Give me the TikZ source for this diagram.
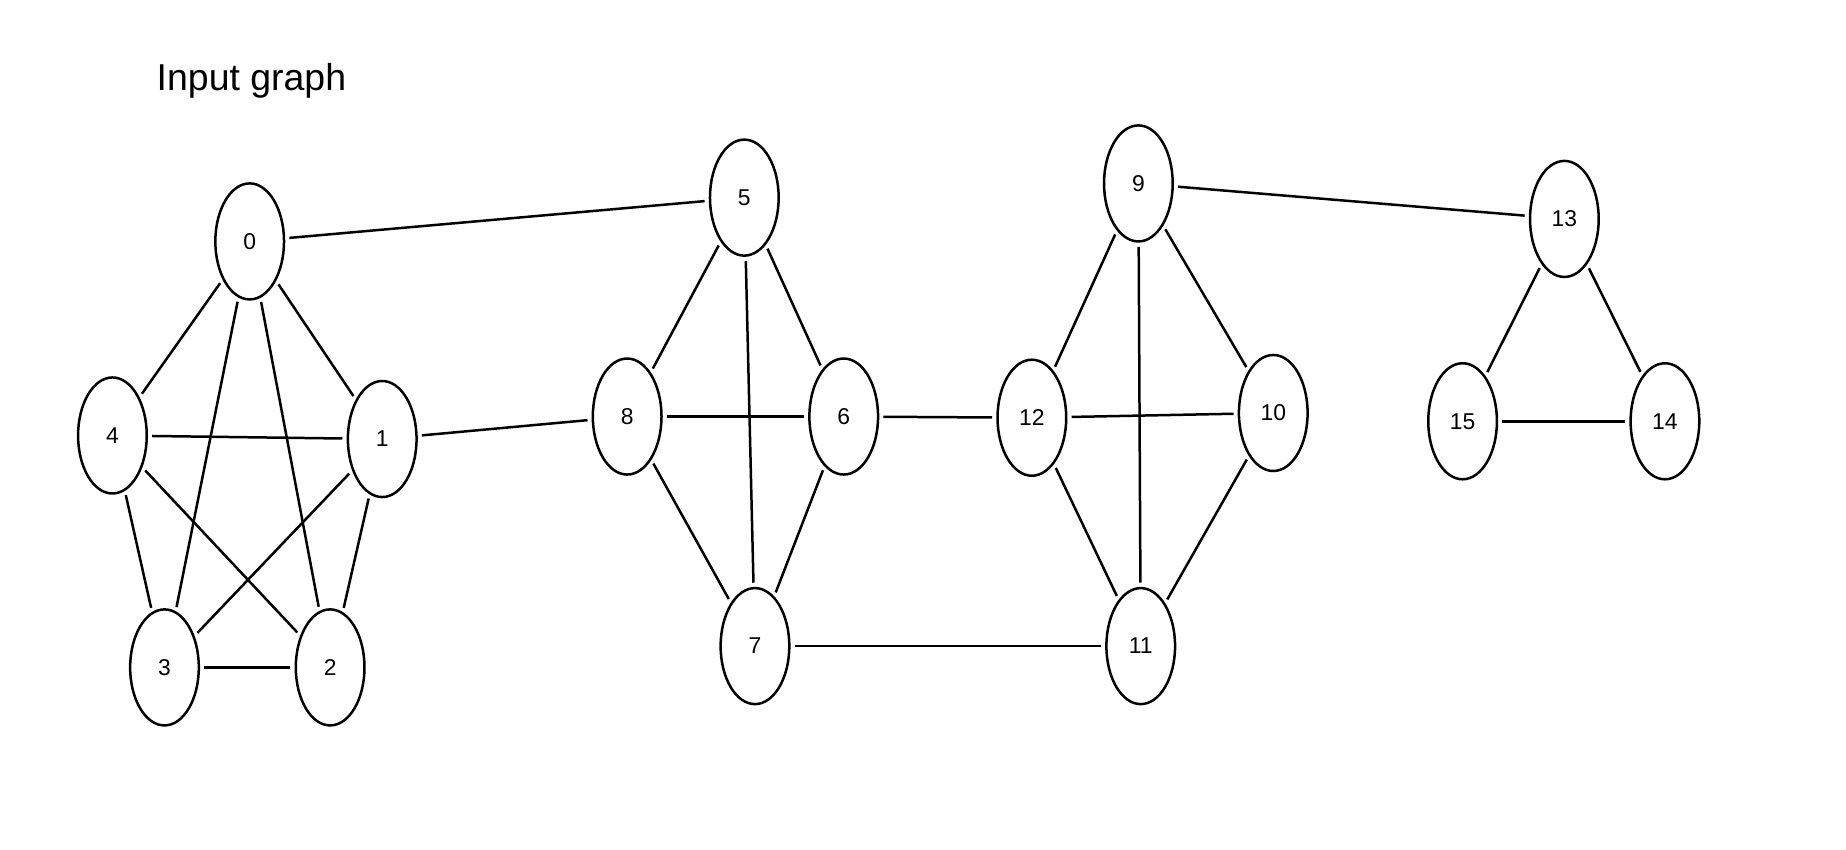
\documentclass[tikz,border=0pt]{standalone}
\usepackage{fontspec}
\setmainfont{Liberation Sans}
\usetikzlibrary{shapes.geometric}
\tikzset{
  v/.style={ellipse,draw,line width=0.6pt,minimum width=0.58cm,minimum height=0.98cm,inner sep=0pt,font=\fontsize{5.5}{6}\selectfont},
  e/.style={line width=0.6pt,shorten >=1pt,shorten <=1pt}
}
\begin{document}
\begin{tikzpicture}[x=0.01cm,y=-0.01cm]
  \useasboundingbox (0,0) rectangle (1560,718);
  \node[anchor=west,font=\fontsize{9}{11}\selectfont] (t) at (120,68) {Input graph};
  \node[v] (0) at (211,204) {0};
  \node[v] (5) at (629,167) {5};
  \node[v] (9) at (962,155) {9};
  \node[v] (13) at (1322,185) {13};
  \node[v] (4) at (95,368) {4};
  \node[v] (1) at (323,371) {1};
  \node[v] (8) at (530,352) {8};
  \node[v] (6) at (713,352) {6};
  \node[v] (12) at (872,353) {12};
  \node[v] (10) at (1076,349) {10};
  \node[v] (15) at (1236,356) {15};
  \node[v] (14) at (1407,356) {14};
  \node[v] (3) at (139,564) {3};
  \node[v] (2) at (279,564) {2};
  \node[v] (7) at (638,546) {7};
  \node[v] (11) at (964,546) {11};
  \foreach \a/\b in {0/5,0/4,0/1,0/3,0/2,4/1,4/3,4/2,1/3,1/2,3/2,1/8,
    5/8,5/6,5/7,8/6,8/7,6/7,6/12,7/11,9/13,9/12,9/10,9/11,12/10,12/11,
    10/11,13/15,13/14,15/14}
    \draw[e] (\a) -- (\b);
\end{tikzpicture}
\end{document}
